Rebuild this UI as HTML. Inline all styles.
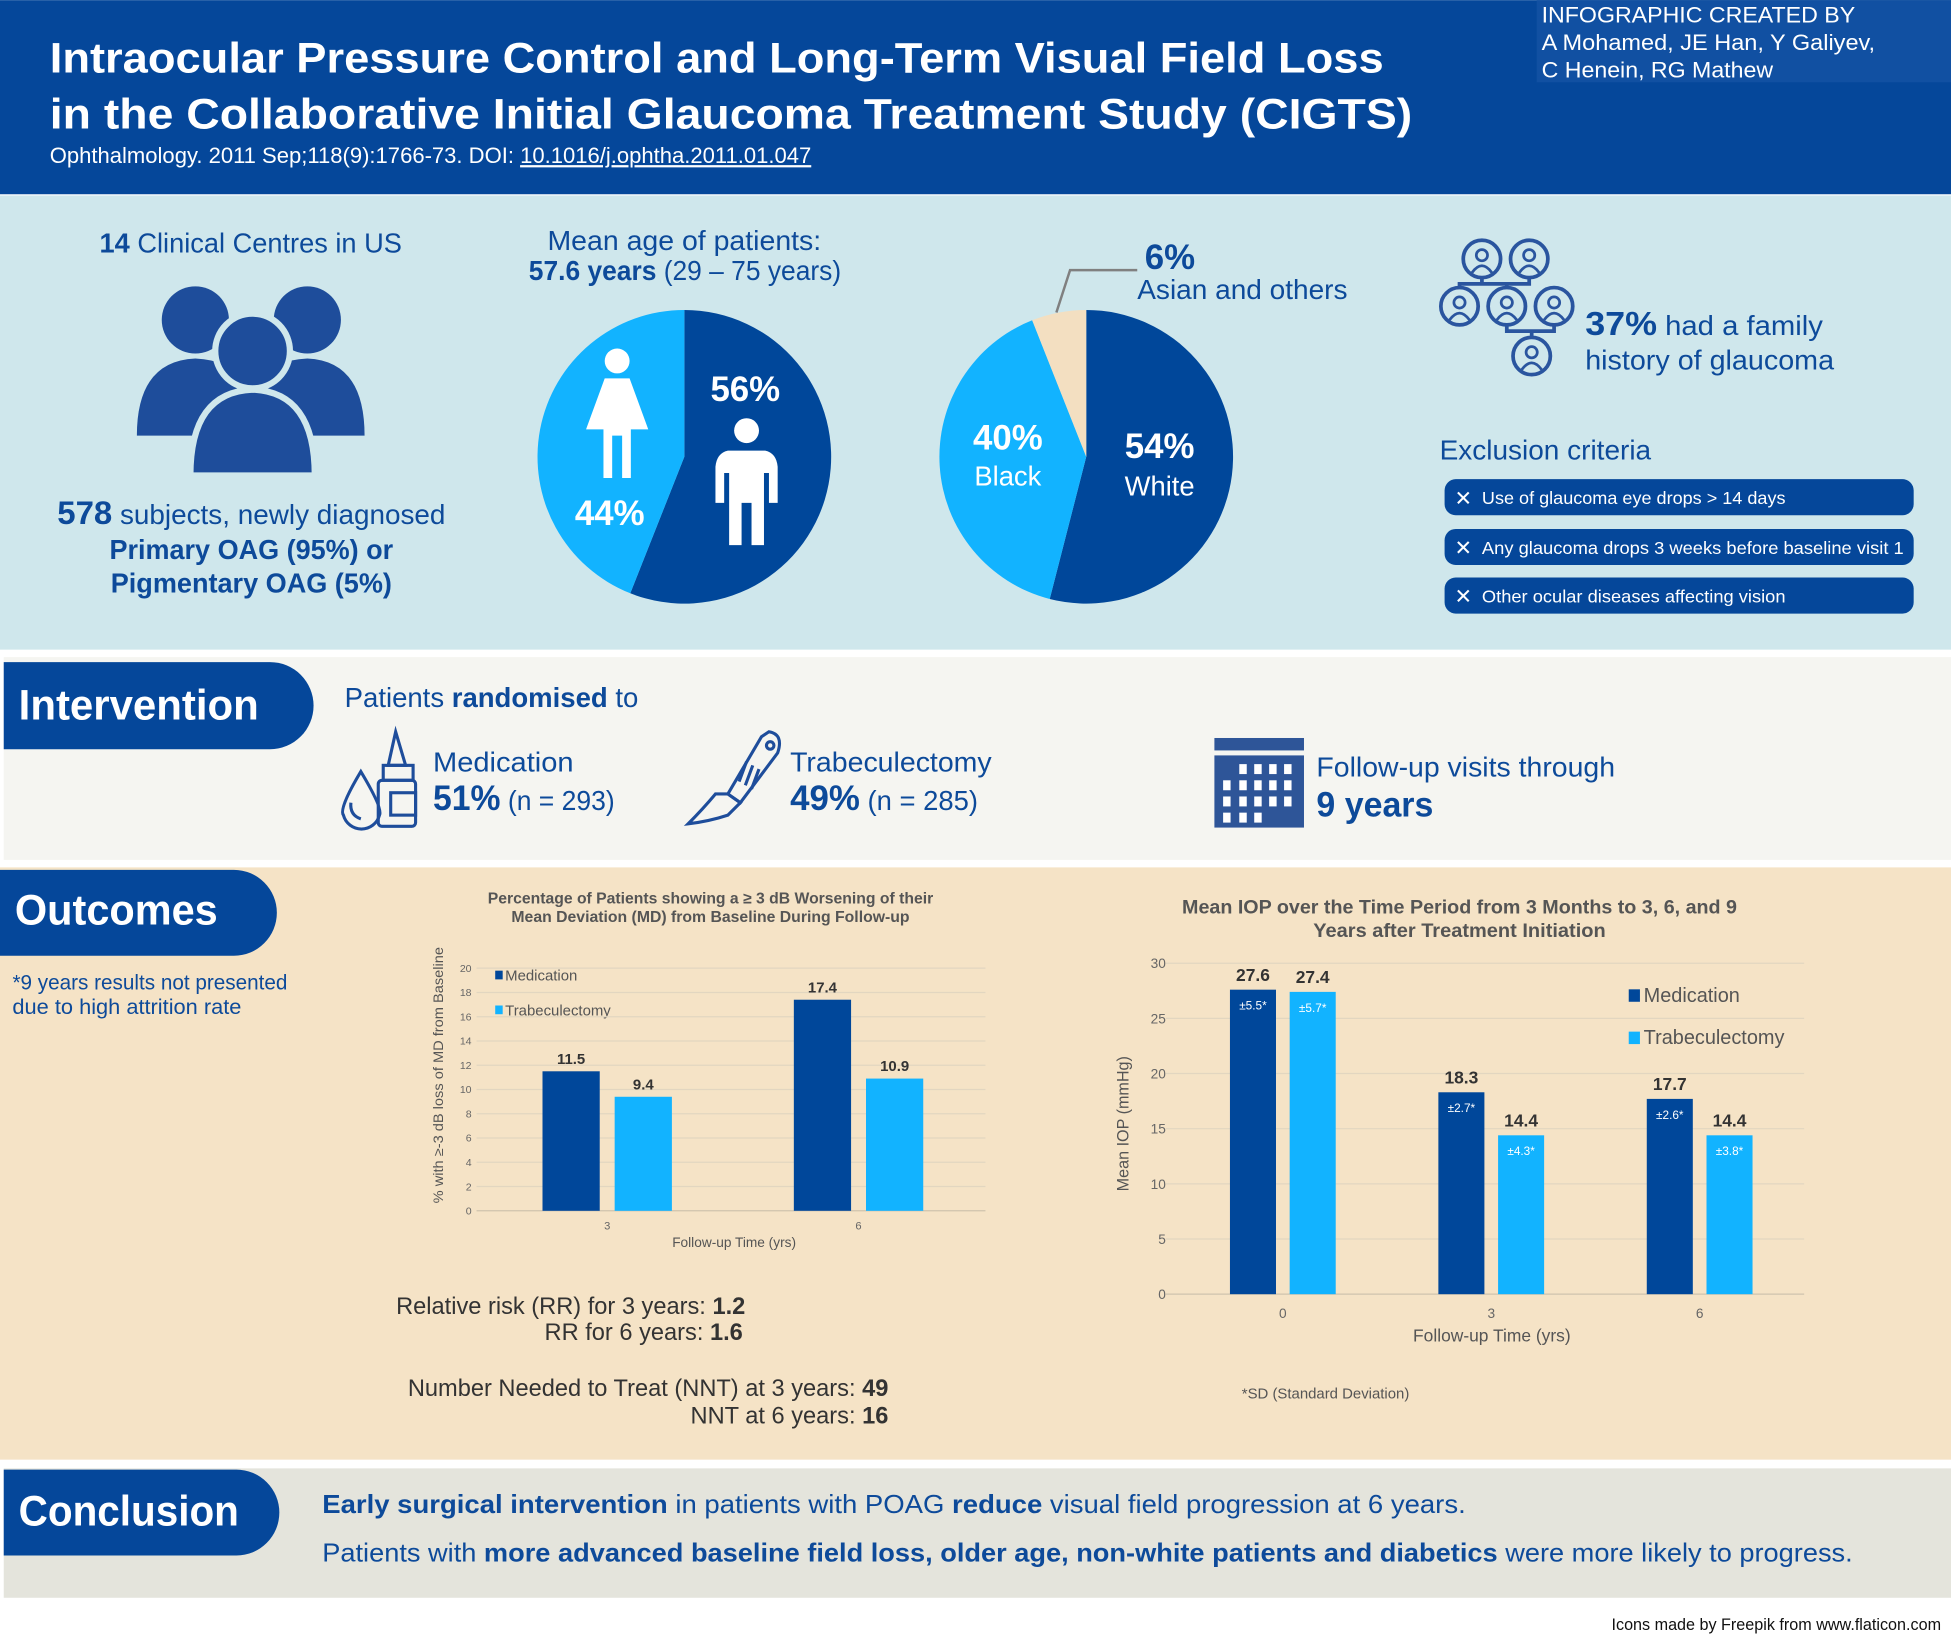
<!DOCTYPE html>
<html><head><meta charset="utf-8"><title>CIGTS Infographic</title>
<style>
html,body{margin:0;padding:0;background:#fff;}
svg{display:block;font-family:"Liberation Sans",sans-serif;}
</style></head>
<body>
<svg id="page" width="1951" height="1634" viewBox="0 0 1568 1313" xmlns="http://www.w3.org/2000/svg">
<rect x="0" y="0" width="1568" height="1313" fill="#ffffff"/>
<!-- Header -->
<g>
<rect x="0" y="0" width="1568" height="156" fill="#05479a"/>
<rect x="1235" y="0" width="333" height="66" fill="#1150a2"/>
<text x="40" y="58" font-size="34" font-weight="bold" fill="#fff" textLength="1072" lengthAdjust="spacingAndGlyphs">Intraocular Pressure Control and Long-Term Visual Field Loss</text>
<text x="40" y="103" font-size="34" font-weight="bold" fill="#fff" textLength="1095" lengthAdjust="spacingAndGlyphs">in the Collaborative Initial Glaucoma Treatment Study (CIGTS)</text>
<text x="40" y="131" font-size="18" fill="#fff" textLength="612" lengthAdjust="spacingAndGlyphs">Ophthalmology. 2011 Sep;118(9):1766-73. DOI: <tspan text-decoration="underline">10.1016/j.ophtha.2011.01.047</tspan></text>
<text x="1239" y="18" font-size="18" fill="#fff" textLength="252" lengthAdjust="spacingAndGlyphs">INFOGRAPHIC CREATED BY</text>
<text x="1239" y="40" font-size="18" fill="#fff" textLength="268" lengthAdjust="spacingAndGlyphs">A Mohamed, JE Han,  Y Galiyev,</text>
<text x="1239" y="62" font-size="18" fill="#fff" textLength="186" lengthAdjust="spacingAndGlyphs">C Henein, RG Mathew</text>
</g>

<!-- Demographics section -->
<g>
<rect x="0" y="157" width="1568" height="365" fill="#cfe7ec"/>
<text x="80" y="203" font-size="22" fill="#0d4a9a" textLength="243" lengthAdjust="spacingAndGlyphs"><tspan font-weight="bold">14</tspan> Clinical Centres in US</text>
<g fill="#1e4d9b">
<circle cx="157" cy="257" r="27"/><circle cx="247" cy="257" r="27"/>
<path d="M110 350 Q110 290 157 288 Q200 290 205 330 L205 350 Z"/>
<path d="M293 350 Q293 290 247 288 Q204 290 200 330 L200 350 Z"/>
<circle cx="203" cy="282" r="30" stroke="#cfe7ec" stroke-width="5"/>
<path d="M153 382 Q153 315 203 313 Q253 315 253 382 Z" stroke="#cfe7ec" stroke-width="5"/>
</g>
<text x="46" y="421" font-size="22" fill="#0d4a9a" textLength="312" lengthAdjust="spacingAndGlyphs"><tspan font-weight="bold" font-size="26">578</tspan> subjects, newly diagnosed</text>
<text x="88" y="449" font-size="22" font-weight="bold" fill="#0d4a9a" textLength="228" lengthAdjust="spacingAndGlyphs">Primary OAG (95%) or</text>
<text x="89" y="476" font-size="22" font-weight="bold" fill="#0d4a9a" textLength="226" lengthAdjust="spacingAndGlyphs">Pigmentary OAG (5%)</text>

<text x="440" y="201" font-size="22" fill="#0d4a9a" textLength="220" lengthAdjust="spacingAndGlyphs">Mean age of patients:</text>
<text x="425" y="225" font-size="22" fill="#0d4a9a" textLength="251" lengthAdjust="spacingAndGlyphs"><tspan font-weight="bold">57.6 years</tspan> (29 – 75 years)</text>
<g id="genderPie"></g>
<g fill="#fff">
<circle cx="496" cy="290" r="10"/>
<path d="M486 304 L506 304 L521 345 L507 345 L507 384 L500 384 L500 350 L492 350 L492 384 L485 384 L485 345 L471 345 Z"/>
</g>
<g fill="#fff">
<circle cx="600" cy="346" r="10"/>
<path d="M585 362 L615 362 Q624 364 625 375 L625 404 L618 404 L618 380 L614 380 L614 438 L604 438 L604 404 L596 404 L596 438 L586 438 L586 380 L582 380 L582 404 L575 404 L575 375 Q576 364 585 362 Z"/>
</g>
<text x="599" y="322" font-size="28" font-weight="bold" fill="#fff" text-anchor="middle">56%</text>
<text x="490" y="422" font-size="28" font-weight="bold" fill="#fff" text-anchor="middle">44%</text>

<g id="racePie"></g>
<polyline points="849,251 860,217 914,217" fill="none" stroke="#808080" stroke-width="2"/>
<text x="920" y="216" font-size="28" font-weight="bold" fill="#0d4a9a">6%</text>
<text x="914" y="240" font-size="22" fill="#0d4a9a" textLength="169" lengthAdjust="spacingAndGlyphs">Asian and others</text>
<text x="810" y="361" font-size="28" font-weight="bold" fill="#fff" text-anchor="middle">40%</text>
<text x="810" y="390" font-size="22" fill="#fff" text-anchor="middle">Black</text>
<text x="932" y="368" font-size="28" font-weight="bold" fill="#fff" text-anchor="middle">54%</text>
<text x="932" y="398" font-size="22" fill="#fff" text-anchor="middle">White</text>

<g fill="none" stroke="#2a559f" stroke-width="3">
<circle cx="1191" cy="208" r="15"/><circle cx="1229" cy="208" r="15"/>
<circle cx="1173" cy="246" r="15"/><circle cx="1211" cy="246" r="15"/><circle cx="1249" cy="246" r="15"/>
<circle cx="1231" cy="286" r="15"/>
<path d="M1191 223 L1191 228 L1229 228 L1229 223 M1173 231 L1173 228 L1211 228 L1211 231 M1211 261 L1211 266 L1249 266 L1249 261 M1231 266 L1231 271"/>
<g stroke-width="2.2">
<circle cx="1191" cy="205" r="4.5"/><path d="M1183 219 Q1191 208 1199 219"/>
<circle cx="1229" cy="205" r="4.5"/><path d="M1221 219 Q1229 208 1237 219"/>
<circle cx="1173" cy="243" r="4.5"/><path d="M1165 257 Q1173 246 1181 257"/>
<circle cx="1211" cy="243" r="4.5"/><path d="M1203 257 Q1211 246 1219 257"/>
<circle cx="1249" cy="243" r="4.5"/><path d="M1241 257 Q1249 246 1257 257"/>
<circle cx="1231" cy="283" r="4.5"/><path d="M1223 297 Q1231 286 1239 297"/>
</g>
</g>
<text x="1274" y="269" font-size="22" fill="#0d4a9a" textLength="191" lengthAdjust="spacingAndGlyphs"><tspan font-weight="bold" font-size="27">37%</tspan> had a family</text>
<text x="1274" y="297" font-size="22" fill="#0d4a9a" textLength="200" lengthAdjust="spacingAndGlyphs">history of glaucoma</text>
<text x="1157" y="369" font-size="22" fill="#0d4a9a" textLength="170" lengthAdjust="spacingAndGlyphs">Exclusion criteria</text>
<g>
<rect x="1161" y="385" width="377" height="29" rx="9" fill="#05479a"/>
<text x="1169" y="406" font-size="17" fill="#fff">✕</text>
<text x="1191" y="405" font-size="14" fill="#fff" textLength="244" lengthAdjust="spacingAndGlyphs">Use of glaucoma eye drops &gt; 14 days</text></g>
<g>
<rect x="1161" y="425" width="377" height="29" rx="9" fill="#05479a"/>
<text x="1169" y="446" font-size="17" fill="#fff">✕</text>
<text x="1191" y="445" font-size="14" fill="#fff" textLength="339" lengthAdjust="spacingAndGlyphs">Any glaucoma drops 3 weeks before baseline visit 1</text></g>
<g>
<rect x="1161" y="464" width="377" height="29" rx="9" fill="#05479a"/>
<text x="1169" y="485" font-size="17" fill="#fff">✕</text>
<text x="1191" y="484" font-size="14" fill="#fff" textLength="244" lengthAdjust="spacingAndGlyphs">Other ocular diseases affecting vision</text></g>
</g>

<!-- Intervention -->
<g>
<rect x="3" y="528" width="1565" height="163" fill="#f5f5f1"/>
<path d="M3 532 L217 532 A35 35 0 0 1 217 602 L3 602 Z" fill="#05479a"/>
<text x="15" y="578" font-size="34" font-weight="bold" fill="#fff" textLength="193" lengthAdjust="spacingAndGlyphs">Intervention</text>
<text x="277" y="568" font-size="22" fill="#0d4a9a" textLength="236" lengthAdjust="spacingAndGlyphs">Patients <tspan font-weight="bold">randomised</tspan> to</text>
<g fill="none" stroke="#1e4d9b" stroke-width="2.5">
<path d="M318 588 L312 615 L326 615 Z"/><rect x="308" y="615" width="24" height="12"/>
<rect x="304" y="627" width="30" height="37" rx="3"/><rect x="314" y="637" width="20" height="18"/>
<path d="M290 620 Q272 650 276 655 A15 15 0 0 0 305 655 Q308 650 290 620 Z"/>
<path d="M282 645 Q281 655 290 658"/>
</g>
<text x="348" y="620" font-size="22" fill="#0d4a9a" textLength="113" lengthAdjust="spacingAndGlyphs">Medication</text>
<text x="348" y="651" font-size="22" fill="#0d4a9a" textLength="146" lengthAdjust="spacingAndGlyphs"><tspan font-weight="bold" font-size="28">51%</tspan> (n = 293)</text>
<g fill="none" stroke="#1e4d9b" stroke-width="2.5">
<path d="M618 588 Q630 590 625 605 L595 645 L585 638 L612 592 Z"/>
<path d="M585 638 L595 645 L585 655 Q570 660 553 662 Q565 650 575 638 Z"/>
<circle cx="619" cy="599" r="3"/>
<path d="M600 612 L594 628 M605 615 L599 631 M610 618 L604 634"/>
</g>
<text x="635" y="620" font-size="22" fill="#0d4a9a" textLength="162" lengthAdjust="spacingAndGlyphs">Trabeculectomy</text>
<text x="635" y="651" font-size="22" fill="#0d4a9a" textLength="151" lengthAdjust="spacingAndGlyphs"><tspan font-weight="bold" font-size="28">49%</tspan> (n = 285)</text>
<g>
<rect x="976" y="593" width="72" height="10" fill="#2e5598"/>
<rect x="976" y="607" width="72" height="58" fill="#2e5598"/>
<g fill="#fff">
<rect x="996" y="614" width="6" height="8"/><rect x="1008" y="614" width="6" height="8"/><rect x="1020" y="614" width="6" height="8"/><rect x="1032" y="614" width="6" height="8"/>
<rect x="983" y="627" width="6" height="8"/><rect x="996" y="627" width="6" height="8"/><rect x="1008" y="627" width="6" height="8"/><rect x="1020" y="627" width="6" height="8"/><rect x="1032" y="627" width="6" height="8"/>
<rect x="983" y="640" width="6" height="8"/><rect x="996" y="640" width="6" height="8"/><rect x="1008" y="640" width="6" height="8"/><rect x="1020" y="640" width="6" height="8"/><rect x="1032" y="640" width="6" height="8"/>
<rect x="983" y="653" width="6" height="8"/><rect x="996" y="653" width="6" height="8"/><rect x="1008" y="653" width="6" height="8"/>
</g></g>
<text x="1058" y="624" font-size="22" fill="#0d4a9a" textLength="240" lengthAdjust="spacingAndGlyphs">Follow-up visits through</text>
<text x="1058" y="656" font-size="28" font-weight="bold" fill="#0d4a9a" textLength="94" lengthAdjust="spacingAndGlyphs">9 years</text>
</g>

<!-- Outcomes -->
<g>
<rect x="0" y="697" width="1568" height="476" fill="#f5e3c6"/>
<path d="M0 699 L188 699 A34.5 34.5 0 0 1 188 768 L0 768 Z" fill="#05479a"/>
<text x="12" y="743" font-size="34" font-weight="bold" fill="#fff" textLength="163" lengthAdjust="spacingAndGlyphs">Outcomes</text>
<text x="10" y="795" font-size="17" fill="#0d4a9a" textLength="221" lengthAdjust="spacingAndGlyphs">*9 years results not presented</text>
<text x="10" y="815" font-size="17" fill="#0d4a9a" textLength="184" lengthAdjust="spacingAndGlyphs">due to high attrition rate</text>

<g id="chart1">
<text x="571" y="726" font-size="12.5" font-weight="bold" fill="#555" text-anchor="middle" textLength="358" lengthAdjust="spacingAndGlyphs">Percentage of Patients showing a ≥ 3 dB Worsening of their</text>
<text x="571" y="741" font-size="12.5" font-weight="bold" fill="#555" text-anchor="middle" textLength="320" lengthAdjust="spacingAndGlyphs">Mean Deviation (MD) from Baseline During Follow-up</text>
<text transform="translate(356,864) rotate(-90)" font-size="11" fill="#555" text-anchor="middle" textLength="206" lengthAdjust="spacingAndGlyphs">% with ≥-3 dB loss of MD from Baseline</text>
<text x="590" y="1002" font-size="11" fill="#555" text-anchor="middle">Follow-up Time (yrs)</text>
<rect x="398" y="780" width="6" height="7" fill="#00479a"/>
<text x="406" y="788" font-size="12" fill="#555">Medication</text>
<rect x="398" y="808" width="6" height="7" fill="#12b3ff"/>
<text x="406" y="816" font-size="12" fill="#555">Trabeculectomy</text>
</g>
<text x="599" y="1056" font-size="19" fill="#333" text-anchor="end">Relative risk (RR) for 3 years: <tspan font-weight="bold">1.2</tspan></text>
<text x="597" y="1077" font-size="19" fill="#333" text-anchor="end">RR for 6 years: <tspan font-weight="bold">1.6</tspan></text>
<text x="714" y="1122" font-size="19" fill="#333" text-anchor="end">Number Needed to Treat (NNT) at 3 years: <tspan font-weight="bold">49</tspan></text>
<text x="714" y="1144" font-size="19" fill="#333" text-anchor="end">NNT at 6 years: <tspan font-weight="bold">16</tspan></text>

<g id="chart2">
<text x="1173" y="734" font-size="15.5" font-weight="bold" fill="#555" text-anchor="middle" textLength="446" lengthAdjust="spacingAndGlyphs">Mean IOP over the Time Period from 3 Months to 3, 6, and 9</text>
<text x="1173" y="753" font-size="15.5" font-weight="bold" fill="#555" text-anchor="middle" textLength="235" lengthAdjust="spacingAndGlyphs">Years after Treatment Initiation</text>
<text transform="translate(907,903) rotate(-90)" font-size="13" fill="#555" text-anchor="middle">Mean IOP (mmHg)</text>
<text x="1199" y="1078" font-size="14" fill="#555" text-anchor="middle">Follow-up Time (yrs)</text>
<rect x="1309" y="795" width="9" height="10" fill="#00479a"/>
<text x="1321" y="805" font-size="16" fill="#555">Medication</text>
<rect x="1309" y="829" width="9" height="10" fill="#12b3ff"/>
<text x="1321" y="839" font-size="16" fill="#555">Trabeculectomy</text>
<text x="998" y="1124" font-size="12" fill="#555">*SD (Standard Deviation)</text>
</g>
</g>

<!-- Conclusion -->
<g>
<rect x="3" y="1180" width="1565" height="104" fill="#e4e4dc"/>
<path d="M3 1181 L190 1181 A34.5 34.5 0 0 1 190 1250 L3 1250 Z" fill="#05479a"/>
<text x="15" y="1226" font-size="34" font-weight="bold" fill="#fff" textLength="177" lengthAdjust="spacingAndGlyphs">Conclusion</text>
<text x="259" y="1216" font-size="21" fill="#0d4a9a" textLength="919" lengthAdjust="spacingAndGlyphs"><tspan font-weight="bold">Early surgical intervention</tspan> in patients with POAG <tspan font-weight="bold">reduce</tspan> visual field progression at 6 years.</text>
<text x="259" y="1255" font-size="21" fill="#0d4a9a" textLength="1230" lengthAdjust="spacingAndGlyphs">Patients with <tspan font-weight="bold">more advanced baseline field loss, older age, non-white patients and diabetics</tspan> were more likely to progress.</text>
</g>
<text x="1560" y="1310" font-size="13" fill="#111" text-anchor="end">Icons made by Freepik from www.flaticon.com</text>
</svg>

<script>
// ---- Pie data ----
const genderLabels = ["Male", "Female"];
const genderValues = [56, 44];
const raceLabels = ["White", "Black", "Asian and others"];
const raceValues = [54, 40, 6];

// ---- Chart 1 data ----
const c1Categories = ["3", "6"];
const c1Medication = [11.5, 17.4];
const c1Trabeculectomy = [9.4, 10.9];
const c1Ticks = [0, 2, 4, 6, 8, 10, 12, 14, 16, 18, 20];

// ---- Chart 2 data ----
const c2Categories = ["0", "3", "6"];
const c2Medication = [27.6, 18.3, 17.7];
const c2Trabeculectomy = [27.4, 14.4, 14.4];
const c2MedicationSD = ["±5.5*", "±2.7*", "±2.6*"];
const c2TrabeculectomySD = ["±5.7*", "±4.3*", "±3.8*"];
const c2Ticks = [0, 5, 10, 15, 20, 25, 30];

const NS = "http://www.w3.org/2000/svg";
function mk(tag, attrs, parent) {
  const e = document.createElementNS(NS, tag);
  for (const k in attrs) e.setAttribute(k, attrs[k]);
  parent.appendChild(e);
  return e;
}

function drawPie(g, values, labels, colors, cx, cy, r, prefix) {
  const total = values.reduce((a, b) => a + b, 0);
  let a0 = 0;
  values.forEach((v, i) => {
    const a1 = a0 + v / total * Math.PI * 2;
    const x0 = cx + r * Math.sin(a0), y0 = cy - r * Math.cos(a0);
    const x1 = cx + r * Math.sin(a1), y1 = cy - r * Math.cos(a1);
    const large = (a1 - a0) > Math.PI ? 1 : 0;
    const p = mk("path", {d: `M${cx} ${cy} L${x0} ${y0} A${r} ${r} 0 ${large} 1 ${x1} ${y1} Z`, fill: colors[i]}, g);
    
    
    a0 = a1;
  });
}
drawPie(document.getElementById("genderPie"), genderValues, genderLabels, ["#00479a", "#12b3ff"], 550, 367, 118, "gender");
drawPie(document.getElementById("racePie"), raceValues, raceLabels, ["#00479a", "#12b3ff", "#f3dfc1"], 873, 367, 118, "race");

// ---- Chart 1 ----
(function () {
  const g = document.getElementById("chart1");
  const y0 = 973, yTop = 778, maxV = 20;
  const yScale = v => y0 - v / maxV * (y0 - yTop);
  const xCenters = i => 488 + i * 202;
  const xLeft = 383, xRight = 792, bw = 46, gap = 12;
  c1Ticks.forEach(t => {
    const l = mk("line", {x1: xLeft, x2: xRight, y1: yScale(t), y2: yScale(t), stroke: t === 0 ? "#cfc3ad" : "#e2d6c0", "stroke-width": 1}, g);
    
    
    const tx = mk("text", {x: 379, y: yScale(t) + 3, "font-size": 8.5, fill: "#666", "text-anchor": "end"}, g);
    tx.textContent = t;
    
    
  });
  c1Categories.forEach((c, i) => {
    const cx = xCenters(i);
    const series = [[c1Medication[i], "#00479a", cx - gap / 2 - bw], [c1Trabeculectomy[i], "#12b3ff", cx + gap / 2]];
    series.forEach((s, j) => {
      const b = mk("rect", {x: s[2], y: yScale(s[0]), width: bw, height: y0 - yScale(s[0]), fill: s[1]}, g);
      
      
      const lt = mk("text", {x: s[2] + bw / 2, y: yScale(s[0]) - 6, "font-size": 12, "font-weight": "bold", fill: "#333", "text-anchor": "middle"}, g);
      lt.textContent = s[0];
      
      
    });
    const xt = mk("text", {x: cx, y: 988, "font-size": 9, fill: "#666", "text-anchor": "middle"}, g);
    xt.textContent = c;
    
    
  });
})();

// ---- Chart 2 ----
(function () {
  const g = document.getElementById("chart2");
  const y0 = 1040, yTop = 774, maxV = 30;
  const yScale = v => y0 - v / maxV * (y0 - yTop);
  const xCenters = i => 1031 + i * 167.5;
  const xLeft = 937, xRight = 1450, bw = 37, gap = 11;
  c2Ticks.forEach(t => {
    const l = mk("line", {x1: xLeft, x2: xRight, y1: yScale(t), y2: yScale(t), stroke: t === 0 ? "#cfc3ad" : "#e2d6c0", "stroke-width": 1}, g);
    
    
    const tx = mk("text", {x: 937, y: yScale(t) + 4, "font-size": 11, fill: "#666", "text-anchor": "end"}, g);
    tx.textContent = t;
    
    
  });
  c2Categories.forEach((c, i) => {
    const cx = xCenters(i);
    const series = [[c2Medication[i], "#00479a", cx - gap / 2 - bw, c2MedicationSD[i]], [c2Trabeculectomy[i], "#12b3ff", cx + gap / 2, c2TrabeculectomySD[i]]];
    series.forEach((s, j) => {
      const b = mk("rect", {x: s[2], y: yScale(s[0]), width: bw, height: y0 - yScale(s[0]), fill: s[1]}, g);
      
      
      const lt = mk("text", {x: s[2] + bw / 2, y: yScale(s[0]) - 7, "font-size": 14, "font-weight": "bold", fill: "#333", "text-anchor": "middle"}, g);
      lt.textContent = s[0];
      
      
      const sd = mk("text", {x: s[2] + bw / 2, y: yScale(s[0]) + 16, "font-size": 9.5, fill: "#fff", "text-anchor": "middle"}, g);
      sd.textContent = s[3];
      
      
    });
    const xt = mk("text", {x: cx, y: 1059, "font-size": 11, fill: "#666", "text-anchor": "middle"}, g);
    xt.textContent = c;
    
    
  });
})();
</script>
</body></html>
